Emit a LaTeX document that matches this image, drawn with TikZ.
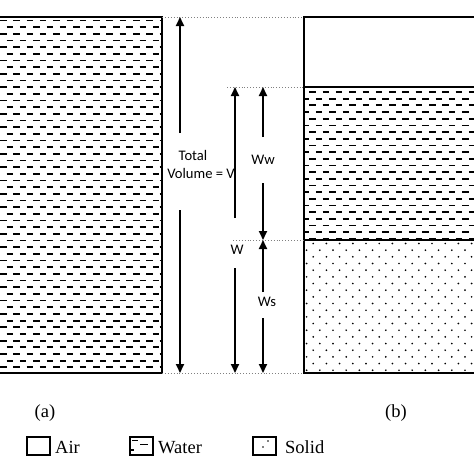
\documentclass[tikz,border=0pt]{standalone}
\usepackage{fontspec}
\setmainfont{Liberation Serif}
\newfontfamily\calib{Carlito}
\usetikzlibrary{arrows.meta}
\begin{document}
\begin{tikzpicture}[x=1pt,y=-1pt,
  dimarrow/.style={line width=1.8pt,-{Triangle[length=9pt,width=8pt]}},
  guide/.style={gray,dotted,line width=0.9pt},
  lbl/.style={font=\calib\fontsize{14.6}{17}\selectfont,inner sep=0pt},
  capt/.style={font=\fontsize{18.5}{21}\selectfont,inner sep=0pt},
  wdash/.style={line width=1.7pt},
  border/.style={line width=1.5pt},
  legbox/.style={line width=1.2pt}]
\useasboundingbox (0,0) rectangle (474,474);
% left water box pattern
\begin{scope}
\clip (0,17) rectangle (162,373);
\foreach \r in {0,...,53} {
  \pgfmathsetmacro\yy{20.5+6.67*\r}
  \pgfmathsetmacro\off{mod(\r,2)*6.65}
  \foreach \c in {-1,...,13} {
    \draw[wdash] ({\off+13.3*\c},\yy) -- ++(6.5,0);
  }
}
\end{scope}
% right water pattern
\begin{scope}
\clip (304,87) rectangle (476,240);
\foreach \r in {0,...,22} {
  \pgfmathsetmacro\yy{92+6.67*\r}
  \pgfmathsetmacro\off{mod(\r,2)*6.65}
  \foreach \c in {0,...,14} {
    \draw[wdash] ({296+\off+13.3*\c},\yy) -- ++(6.5,0);
  }
}
\end{scope}
% right solid pattern
\begin{scope}
\clip (304,240) rectangle (476,373);
\foreach \r in {0,...,20} {
  \pgfmathsetmacro\yy{243.5+6.67*\r}
  \pgfmathsetmacro\off{mod(\r,2)*6.6}
  \foreach \c in {0,...,14} {
    \fill ({300+\off+13.2*\c},\yy) circle (0.95);
  }
}
\end{scope}
% borders
\draw[border] (-2,17) rectangle (162,373);
\draw[border] (304,17) rectangle (478,373);
\draw[border] (304,87) -- (478,87);
\draw[line width=2pt] (304,240) -- (478,240);
% guide lines
\coordinate (t1) at (162,17);  \coordinate (t2) at (304,17);
\coordinate (m1) at (227,87);  \coordinate (m2) at (304,87);
\coordinate (s1) at (233,240); \coordinate (s2) at (304,240);
\coordinate (b1) at (162,373); \coordinate (b2) at (304,373);
\draw[guide] (t1) -- (t2);
\draw[guide] (m1) -- (m2);
\draw[guide] (s1) -- (s2);
\draw[guide] (b1) -- (b2);
% labels
\node[lbl] (tot) at (193,155) {Total};
\node[lbl] (vol) at (201,173) {Volume = V};
\node[lbl] (w) at (237,250) {W};
\node[lbl] (ww) at (263,160) {Ww};
\node[lbl] (ws) at (267,302) {Ws};
% arrows
\coordinate (v1) at (180,133); \coordinate (v1t) at (180,17);
\coordinate (v2) at (180,210); \coordinate (v2t) at (180,373);
\draw[dimarrow] (v1) -- (v1t);
\draw[dimarrow] (v2) -- (v2t);
\coordinate (w1) at (235,218); \coordinate (w1t) at (235,87);
\coordinate (w2) at (235,268); \coordinate (w2t) at (235,373);
\draw[dimarrow] (w1) -- (w1t);
\draw[dimarrow] (w2) -- (w2t);
\coordinate (ww1) at (263,137); \coordinate (ww1t) at (263,87);
\coordinate (ww2) at (263,183); \coordinate (ww2t) at (263,240);
\draw[dimarrow] (ww1) -- (ww1t);
\draw[dimarrow] (ww2) -- (ww2t);
\coordinate (ws1) at (263,292); \coordinate (ws1t) at (263,240);
\coordinate (ws2) at (263,318); \coordinate (ws2t) at (263,373);
\draw[dimarrow] (ws1) -- (ws1t);
\draw[dimarrow] (ws2) -- (ws2t);
% captions
\node[capt] (a) at (45,413) {(a)};
\node[capt] (b) at (396,413) {(b)};
% legend
\draw[legbox] (27,437) rectangle (50,455);
\node[capt,anchor=base west] (air) at (55,453) {Air};
\draw[legbox] (130,437) rectangle (153,455);
\draw[wdash] (132,440.5) -- (138,440.5);
\draw[wdash] (140,444.5) -- (148,444.5);
\draw[wdash] (130,450) -- (134,450);
\node[capt,anchor=base west] (water) at (158,453) {Water};
\draw[legbox] (253,437) rectangle (276,455);
\fill (263,447) circle (0.9);
\fill (268,441) circle (0.9);
\node[capt,anchor=base west] (solid) at (285,453) {Solid};
\end{tikzpicture}
\end{document}
